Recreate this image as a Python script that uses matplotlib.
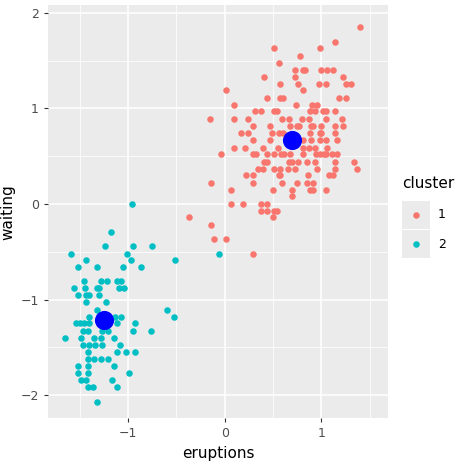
import matplotlib
matplotlib.use("Agg")
import matplotlib.pyplot as plt
from matplotlib.patches import Rectangle

c1_x = [1.40,1.14,0.51,0.98,0.78,0.56,0.73,0.81,0.83,1.00,1.06,1.12,0.41,0.73,1.22,0.57,0.76,0.97,1.05,1.25,1.31,0.01,0.81,
        0.44,0.57,0.60,1.18,1.25,0.10,0.74,0.90,0.95,0.31,0.37,0.51,0.54,0.88,0.93,1.02,1.05,1.14,
        -0.15,0.10,0.24,0.59,0.66,0.80,0.87,1.05,1.21,
        0.29,0.47,0.67,0.75,0.77,0.89,0.91,0.99,1.14,1.22,
        0.17,0.24,0.49,0.56,0.60,0.88,0.98,1.00,1.14,
        0.29,0.47,0.81,0.89,0.98,1.05,1.16,
        0.10,0.21,0.40,0.55,0.81,0.87,0.93,1.06,
        -0.04,0.29,0.32,0.44,0.51,0.58,0.61,0.67,0.81,0.94,0.98,1.03,1.05,1.11,1.16,
        0.41,0.44,0.66,0.69,0.76,0.85,0.93,1.14,1.34,
        0.34,0.40,0.51,0.57,0.65,0.73,0.95,1.14,1.37,
        0.22,0.29,0.56,0.57,0.86,1.08,1.12,
        -0.14,0.29,0.59,0.75,0.85,0.91,
        0.06,0.50,0.70,0.88,0.91,1.05,0.70,
        0.06,0.19,0.37,0.44,0.37,0.44,0.51,0.54,-0.37,0.50,-0.14,-0.11,0.01,0.29]
c1_y = [1.85,1.70,1.63,1.63,1.55,1.48,1.40,1.40,1.40,1.40,1.40,1.40,1.33,1.33,1.33,1.26,1.26,1.26,1.26,1.26,1.26,1.19,1.19,
        1.11,1.11,1.11,1.11,1.11,1.04,1.04,1.04,1.04,0.97,0.97,0.97,0.97,0.97,0.97,0.97,0.97,0.97,
        0.89,0.89,0.89,0.89,0.89,0.89,0.89,0.89,0.89,
        0.82,0.82,0.82,0.82,0.82,0.82,0.82,0.82,0.82,0.82,
        0.74,0.74,0.74,0.74,0.74,0.74,0.74,0.74,0.74,
        0.67,0.67,0.67,0.67,0.67,0.67,0.67,
        0.59,0.59,0.59,0.59,0.59,0.59,0.59,0.59,
        0.52,0.52,0.52,0.52,0.52,0.52,0.52,0.52,0.52,0.52,0.52,0.52,0.52,0.52,0.52,
        0.44,0.44,0.44,0.44,0.44,0.44,0.44,0.44,0.44,
        0.37,0.37,0.37,0.37,0.37,0.37,0.37,0.37,0.37,
        0.30,0.30,0.30,0.30,0.30,0.30,0.30,
        0.22,0.22,0.22,0.22,0.22,0.22,
        0.15,0.15,0.15,0.15,0.15,0.15,0.08,
        0.00,0.00,0.00,0.00,-0.07,-0.07,-0.07,-0.07,-0.14,-0.14,-0.22,-0.37,-0.37,-0.52]

c2_x = [-0.96,-1.18,-1.24,-0.95,-0.75,-1.59,-1.01,-1.44,-0.97,-0.51,-1.52,-1.32,-1.05,-0.87,
        -1.46,-1.28,-1.22,-1.12,-1.07,-1.56,-1.45,-1.32,-1.30,-1.09,-1.04,
        -1.52,-1.44,-1.40,-1.30,-1.44,-1.23,-1.32,-0.60,-1.40,-1.14,-1.07,-0.53,
        -1.54,-1.50,-1.46,-1.40,-1.12,-0.93,-1.47,-1.42,-1.27,-1.21,-0.95,-0.76,
        -1.65,-1.49,-1.35,-1.28,-1.15,-1.47,-1.40,-1.34,-1.27,-1.08,
        -1.41,-1.11,-1.02,-0.93,-1.41,-1.35,-1.28,-1.21,-1.52,-1.41,-1.15,
        -1.52,-1.41,-0.99,-1.49,-1.44,-1.17,-1.41,-1.36,-1.12,-1.32,-0.06]
c2_y = [0.00,-0.29,-0.44,-0.44,-0.44,-0.52,-0.52,-0.59,-0.59,-0.59,-0.66,-0.66,-0.66,-0.66,
        -0.81,-0.81,-0.81,-0.81,-0.81,-0.88,-0.88,-0.88,-0.88,-0.88,-0.88,
        -0.95,-0.95,-0.95,-0.95,-1.03,-1.03,-1.11,-1.11,-1.18,-1.18,-1.18,-1.18,
        -1.25,-1.25,-1.25,-1.25,-1.25,-1.25,-1.33,-1.33,-1.33,-1.33,-1.33,-1.33,
        -1.40,-1.40,-1.40,-1.40,-1.40,-1.48,-1.48,-1.48,-1.48,-1.48,
        -1.55,-1.55,-1.55,-1.55,-1.62,-1.62,-1.62,-1.62,-1.69,-1.69,-1.69,
        -1.77,-1.77,-1.77,-1.84,-1.84,-1.84,-1.92,-1.92,-1.92,-2.07,-0.52]

centers_x = [0.70, -1.25]
centers_y = [0.67, -1.21]
cluster_labels = ["1", "2"]
colors = ["#F8766D", "#00BFC4"]

fig = plt.figure(figsize=(4.74, 4.74), dpi=100)
ax = fig.add_axes([0.101, 0.118, 0.718, 0.871])
ax.set_facecolor("#EBEBEB")
ax.set_xlim(-1.83, 1.69)
ax.set_ylim(-2.24, 2.08)
ax.set_xticks([-1, 0, 1])
ax.set_yticks([-2, -1, 0, 1, 2])
ax.set_xticks([-1.5, -0.5, 0.5, 1.5], minor=True)
ax.set_yticks([-1.5, -0.5, 0.5, 1.5], minor=True)
ax.grid(which="major", color="white", lw=1.1)
ax.grid(which="minor", color="white", lw=0.55)
ax.set_axisbelow(True)
for s in ax.spines.values():
    s.set_visible(False)
ax.tick_params(which="major", length=3, color="#333333", labelsize=9, labelcolor="#4D4D4D")
ax.tick_params(which="minor", length=0)
ax.set_xlabel("eruptions", fontsize=11)
ax.set_ylabel("waiting", fontsize=11)

ax.scatter(c1_x, c1_y, s=22, color=colors[0], linewidths=0)
ax.scatter(c2_x, c2_y, s=22, color=colors[1], linewidths=0)
ax.scatter(centers_x, centers_y, s=190, color="blue", linewidths=0, zorder=3)

fig.text(402/474, 1-183/474, "cluster", fontsize=11, va="center", ha="left")
for i, lab in enumerate(cluster_labels):
    yc = 1 - (215 + 29*i)/474
    kax = fig.add_axes([402/474, yc - 14/474, 28/474, 28/474])
    kax.set_xlim(0, 1); kax.set_ylim(0, 1); kax.axis("off")
    kax.add_patch(Rectangle((0, 0), 1, 1, color="#EBEBEB"))
    kax.scatter([0.5], [0.5], s=22, color=colors[i], linewidths=0)
    fig.text(438/474, yc, lab, fontsize=9, va="center", ha="left")

fig.savefig("out.png", dpi=100)
